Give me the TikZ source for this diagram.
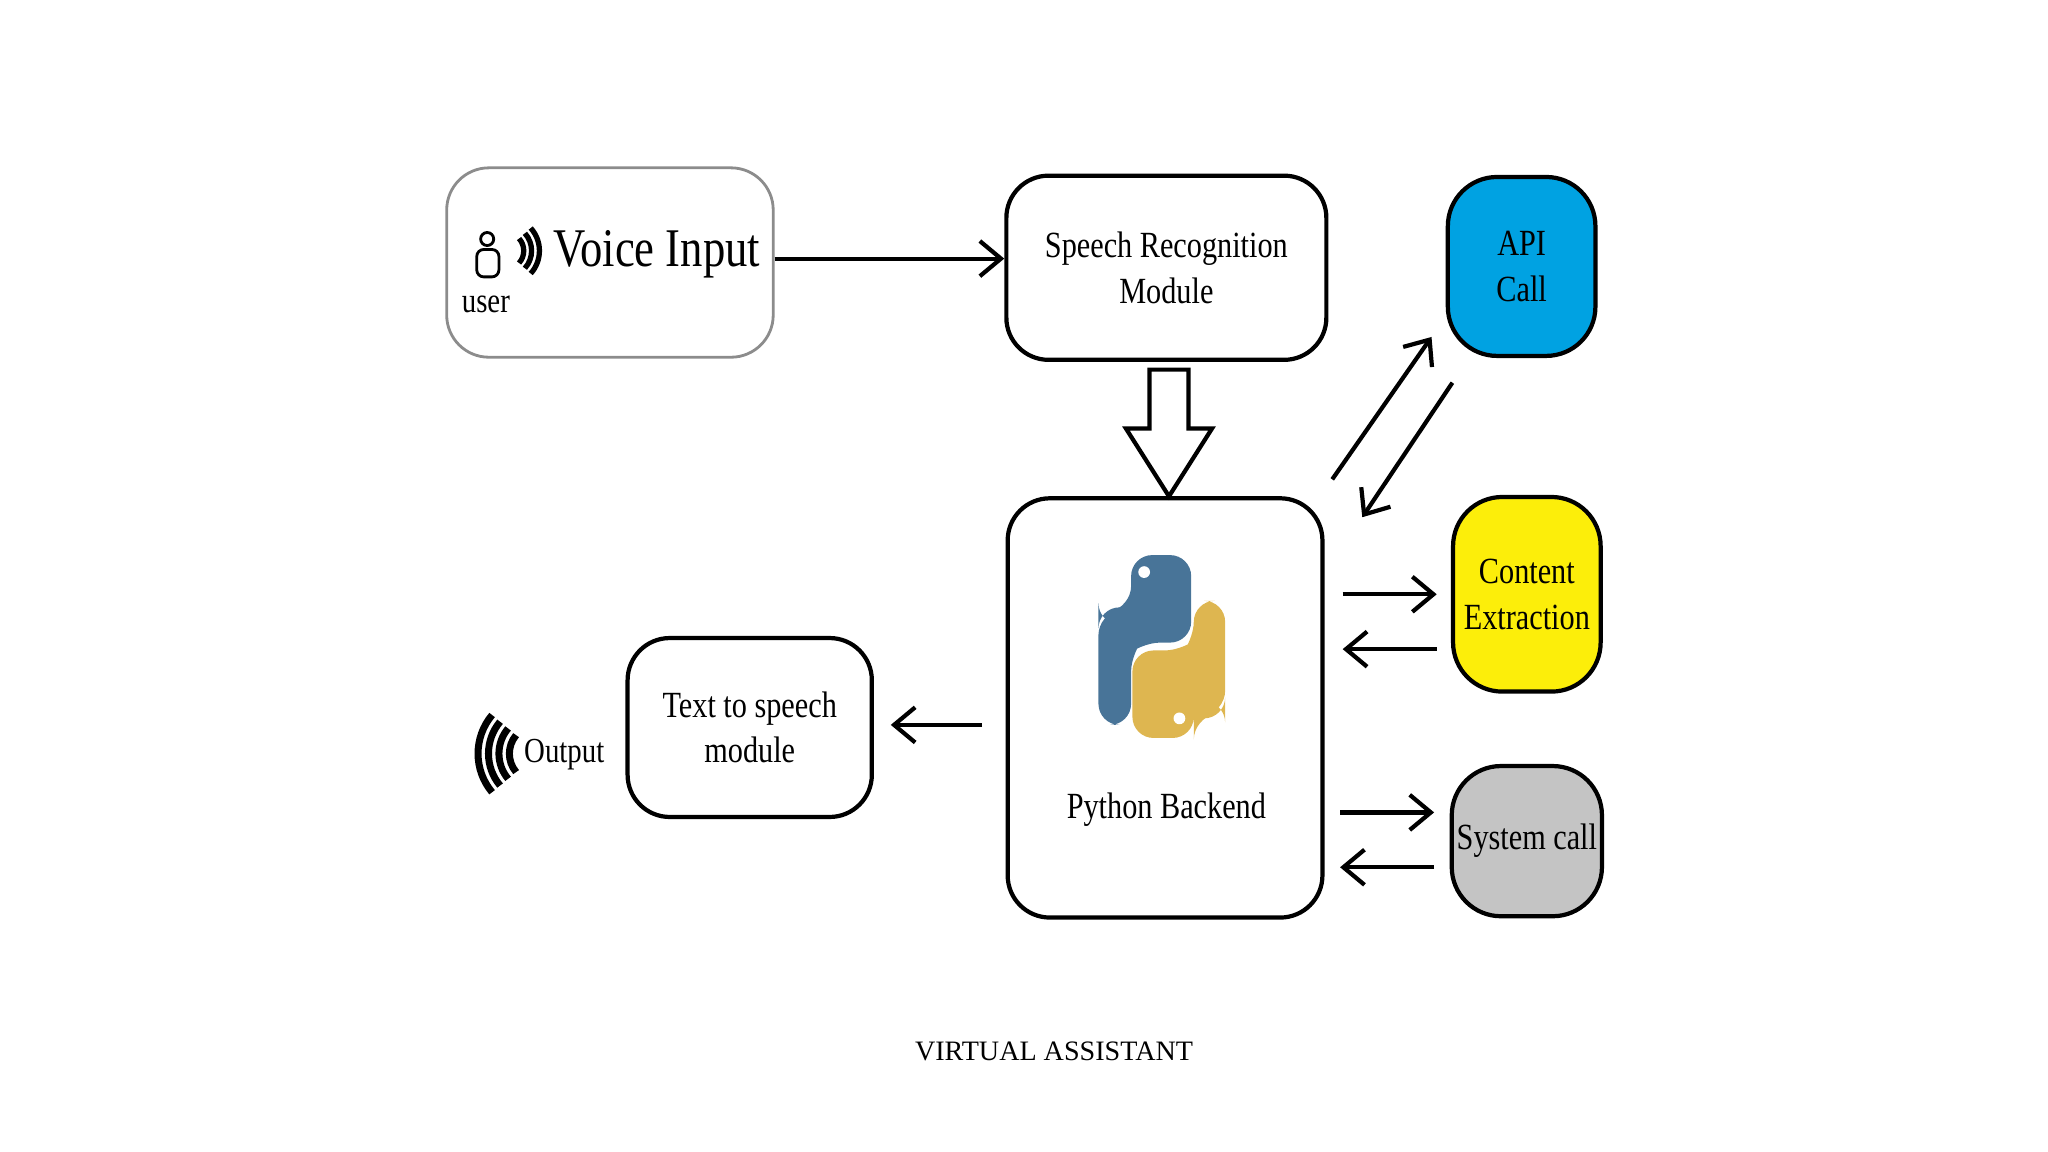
\documentclass[tikz,border=0pt]{standalone}
\usepackage{fontspec}
\setmainfont{Liberation Serif}
\newfontfamily\narrowfont{Liberation Serif}[FakeStretch=0.82]
\usetikzlibrary{positioning,arrows.meta}
\definecolor{apiblue}{RGB}{0,162,226}
\definecolor{extyellow}{RGB}{252,238,10}
\definecolor{sysgray}{RGB}{196,196,196}
\definecolor{pyblue}{RGB}{72,116,152}
\definecolor{pyyellow}{RGB}{222,182,80}
\def\pu{0.013061cm}
\begin{document}
\begin{tikzpicture}[x=0.013061cm, y=-0.013061cm,
    block/.style ={draw, very thick, rounded corners=12pt, align=center, font=\narrowfont\fontsize{10.5}{13}\selectfont, inner sep=0pt},
    service/.style ={block, rounded corners=14pt},
    flow/.style ={-{Straight Barb[length=6pt,width=10pt]}, very thick},
    waves/.style ={line width=2pt}]
   \useasboundingbox (0,0) rectangle (1568,882);

   % boxes
   \node[block, draw=black!45, thick, minimum width={250*\pu}, minimum height={145*\pu}] (voice) at (467,201) {};
   \node[block, minimum width={245*\pu}, minimum height={141*\pu}] (speech) at (893,205) {Speech Recognition\\Module};
   \node[block, minimum width={241*\pu}, minimum height={321*\pu}] (backend) at (892,542) {};
   \node[block, minimum width={187*\pu}, minimum height={137*\pu}] (tts) at (574,557) {Text to speech\\module};
   \node[service, fill=apiblue, minimum width={113*\pu}, minimum height={137*\pu}] (api) at (1165,204) {API\\Call};
   \node[service, fill=extyellow, minimum width={113*\pu}, minimum height={149*\pu}] (extract) at (1169,455) {Content\\Extraction};
   \node[service, fill=sysgray, minimum width={115*\pu}, minimum height={115*\pu}] (system) at (1169,644) {System call};

   % labels
   \node[font=\narrowfont\fontsize{15.5}{18}\selectfont] (voicetxt) at (503,195) {Voice Input};
   \node[font=\narrowfont\fontsize{10}{12}\selectfont] (user) at (372,233) {user};
   \node[font=\narrowfont\fontsize{10.5}{13}\selectfont] (pytxt) at (893,620) {Python Backend};
   \node[font=\narrowfont\fontsize{10}{12}\selectfont] (outtxt) at (432,578) {Output};
   \node[font=\fontsize{8}{10}\selectfont] (caption) at (807,805) {VIRTUAL ASSISTANT};

   % user icon
   \draw[thick] (373,183) circle (5);
   \draw[thick, rounded corners=2pt] (365,212) rectangle (382,191);
   \foreach \r in {14,20,26}
     \draw[line width=1.5pt] (387,192) ++(-42:{\r*\pu}) arc[start angle=-42, end angle=42, radius={\r*\pu}];

   % output icon
   \foreach \r in {22,30,38,46}
     \draw[waves] (412,577) ++(140:{\r*\pu}) arc[start angle=140, end angle=220, radius={\r*\pu}];

   % python logo
   \fill[pyblue, rounded corners=6pt] (866,425) -- (912,425) -- (912,492) -- (872,492) -- (866,498) -- (866,555) -- (841,555) -- (841,470) -- (866,465) -- cycle;
   \fill[pyblue, rounded corners=6pt] (841,465) rectangle (895,478);
   \fill[pyyellow, rounded corners=6pt] (914,460) -- (938,460) -- (938,545) -- (914,550) -- (914,565) -- (867,565) -- (867,498) -- (908,498) -- (914,492) -- cycle;
   \fill[pyyellow, rounded corners=6pt] (886,537) rectangle (938,550);
   \fill[white] (876,438) circle (4.5);
   \fill[white] (903,550) circle (4.5);

   % connectors
   \draw[flow] (voice.east |- 0,198) -- (speech.west |- 0,198);
   \draw[very thick, fill=white] (880,283) -- (910,283) -- (910,328) -- (928,328) -- (895,380) -- (862,328) -- (880,328) -- cycle;
   \coordinate (apiout) at (1020,367);
   \coordinate (apiin) at (1096,258);
   \coordinate (apiback) at (1112,293);
   \coordinate (apiret) at (1043,396);
   \coordinate (ttsin) at (682,555);
   \draw[flow] (apiout) -- (apiin);
   \draw[flow] (apiback) -- (apiret);
   \draw[flow] (1028,455) -- (1100,455);
   \draw[flow] (1100,497) -- (1028,497);
   \draw[flow] (1026,622) -- (1098,622);
   \draw[flow] (1098,664) -- (1026,664);
   \draw[flow] (752,555) -- (ttsin);
 \end{tikzpicture}
\end{document}
